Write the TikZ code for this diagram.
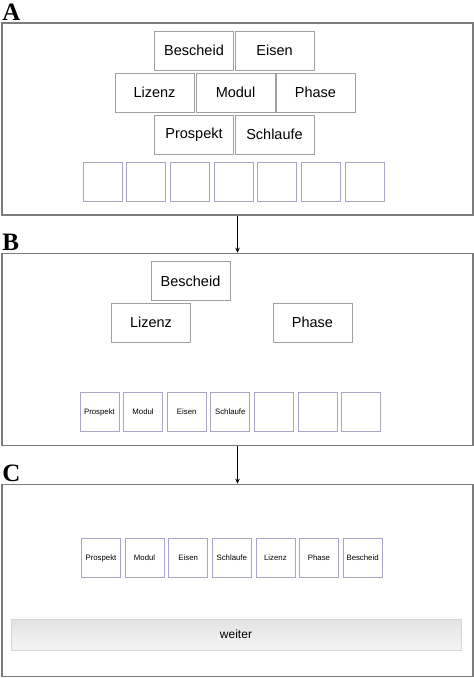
\documentclass[tikz,border=0pt]{standalone}
\usepackage{fontspec}
\setmainfont{Liberation Sans}
\newfontfamily\panelfont{Liberation Serif}
\usetikzlibrary{positioning,arrows.meta}
\definecolor{panelgray}{HTML}{7C7C7C}
\definecolor{wordgray}{HTML}{A0A0A0}
\definecolor{slotlila}{HTML}{A6A6C8}
\definecolor{btnline}{HTML}{D6D6D6}
\tikzset{
  panel/.style={draw=panelgray, line width=1.6pt, minimum width=471pt, minimum height=192pt, inner sep=0pt},
  panellabel/.style={font=\panelfont\bfseries\fontsize{25}{25}\selectfont, inner sep=0pt, anchor=south west},
  word/.style={draw=wordgray, line width=0.8pt, fill=white, minimum width=79pt, minimum height=39pt, inner sep=0pt, font=\fontsize{14.5}{15}\selectfont},
  slot/.style={draw=slotlila, line width=0.8pt, fill=white, minimum width=39pt, minimum height=39pt, inner sep=0pt, font=\fontsize{7.8}{8}\selectfont},
  button/.style={draw=btnline, line width=0.8pt, top color=black!11, bottom color=black!4, minimum width=450pt, minimum height=31pt, inner sep=0pt, font=\fontsize{12}{12}\selectfont}
}
\begin{document}
\begin{tikzpicture}[x=1pt, y=-1pt]
\useasboundingbox (0,0) rectangle (474,678);
% panels
\node[panel] (pA) at (237.5,119) {};
\node[panel] (pB) at (237.5,349.5) {};
\node[panel] (pC) at (237.5,580.5) {};
\node[panellabel, above right=2pt and 1pt of pA.north west] (lA) {A};
\node[panellabel, above right=2pt and 1pt of pB.north west] (lB) {B};
\node[panellabel, above right=2pt and 1pt of pC.north west] (lC) {C};
\draw[-{Stealth[length=5pt,width=4.5pt]}, line width=1.2pt] (pA.south) -- (pB.north);
\draw[-{Stealth[length=5pt,width=4.5pt]}, line width=1.2pt] (pB.south) -- (pC.north);
% A
\node[word] (aBescheid) at (194,50.5) {Bescheid};
\node[word] (aEisen) at (274.5,50.5) {Eisen};
\node[word] (aLizenz) at (154.5,92.5) {Lizenz};
\node[word] (aModul) at (235.5,92.5) {Modul};
\node[word] (aPhase) at (315.5,92.5) {Phase};
\node[word] (aProspekt) at (194,134.5) {Prospekt};
\node[word] (aSchlaufe) at (274.5,134.5) {Schlaufe};
\foreach \i in {0,...,6}
  \node[slot] (a\i) at ({102.5+43.7*\i},181.5) {};
% B
\node[word] (bBescheid) at (190.5,281) {Bescheid};
\node[word] (bLizenz) at (151,322.5) {Lizenz};
\node[word] (bPhase) at (312.5,322.5) {Phase};
\foreach \w [count=\i from 0] in {Prospekt,Modul,Eisen,Schlaufe,{},{},{}}
  \node[slot] (b\i) at ({99.5+43.6*\i},412) {\w};
% C
\foreach \w [count=\i from 0] in {Prospekt,Modul,Eisen,Schlaufe,Lizenz,Phase,Bescheid}
  \node[slot] (c\i) at ({101+43.6*\i},558) {\w};
\node[button] (weiter) at (236,634.5) {weiter};
\end{tikzpicture}
\end{document}
